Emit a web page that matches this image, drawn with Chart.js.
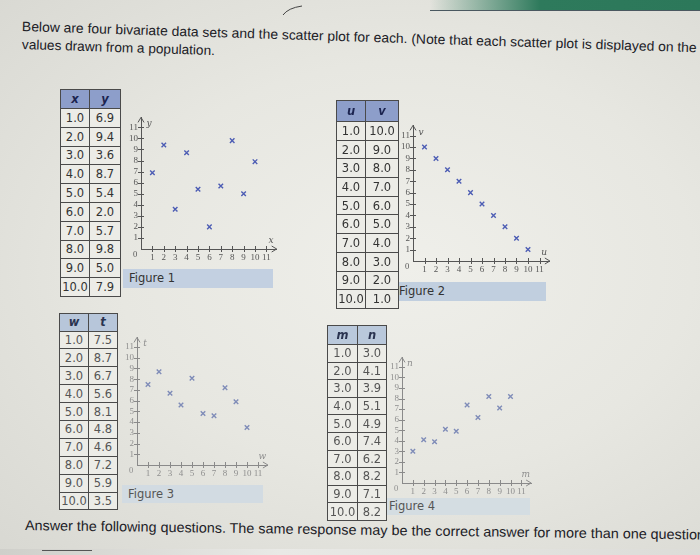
<!DOCTYPE html>
<html><head><meta charset="utf-8">
<script src="https://cdn.jsdelivr.net/npm/chart.js@4"></script>
<style>
html,body{margin:0;padding:0;}
body{width:700px;height:555px;overflow:hidden;position:relative;
 background:radial-gradient(ellipse at 58% 48%, #efefea 0%, #e7e7e1 50%, #d8d8d2 100%);
 font-family:"Liberation Sans",Arial,sans-serif;}
.txt{position:absolute;white-space:nowrap;color:#202026;font-size:13.5px;line-height:16px;transform-origin:0 50%;}
table{position:absolute;border-collapse:collapse;font-family:"DejaVu Sans",sans-serif;font-size:11.5px;color:#333;table-layout:fixed;}
td,th{border:1px solid #4a4a4a;padding:0;text-align:center;background:#ecece7;overflow:hidden;}
th{font-style:italic;font-weight:bold;}
.cap{position:absolute;font-family:"DejaVu Sans",sans-serif;font-size:11.5px;color:#333;padding-left:6px;box-sizing:border-box;}
canvas{position:absolute;}
#green{position:absolute;left:430px;top:0;width:270px;height:10px;background:linear-gradient(to right,rgba(46,122,92,0) 0,#2e7a5c 110px,#2c785a 100%);border-bottom:1.5px solid #4a5860;}
#bottomband{position:absolute;left:0;top:549px;width:700px;height:6px;background:linear-gradient(to right,#cfcfca,#e9e9e6 40%,#dcdcd8);}
#bline{position:absolute;left:42px;top:550px;width:50px;height:1px;background:#555;}
</style></head>
<body>
<div id="green"></div>
<svg style="position:absolute;left:280px;top:0" width="30" height="20"><path d="M3 15 Q8 8 22 6" stroke="#444" stroke-width="1" fill="none"/></svg>
<div class="txt" id="t1" style="left:22px;top:19px;">Below are four bivariate data sets and the scatter plot for each. (Note that each scatter plot is displayed on the</div>
<div class="txt" id="t2" style="left:22px;top:37px;">values drawn from a population.</div>
<div class="txt" id="t3" style="left:25px;top:517px;font-size:14px;">Answer the following questions. The same response may be the correct answer for more than one question.</div>
<div id="bottomband"></div><div id="bline"></div>

<div class="cap" id="c1" style="left:123px;top:269px;width:150px;height:19px;line-height:19px;background:#c3d0e1;">Figure 1</div>
<div class="cap" id="c2" style="left:393px;top:282px;width:153px;height:19px;line-height:19px;background:#c1cfdf;">Figure 2</div>
<div class="cap" id="c3" style="left:122px;top:485px;width:141px;height:18px;line-height:18px;background:#d2dbe2;color:#555;">Figure 3</div>
<div class="cap" id="c4" style="left:383px;top:498px;width:147px;height:17px;line-height:17px;background:#d4dde2;color:#555;">Figure 4</div>

<canvas id="ch1"></canvas><canvas id="ch2"></canvas><canvas id="ch3"></canvas><canvas id="ch4"></canvas>

<script>
// ---- data ----
const x1 = [1.0, 2.0, 3.0, 4.0, 5.0, 6.0, 7.0, 8.0, 9.0, 10.0];
const y1 = [6.9, 9.4, 3.6, 8.7, 5.4, 2.0, 5.7, 9.8, 5.0, 7.9];
const u2 = [1.0, 2.0, 3.0, 4.0, 5.0, 6.0, 7.0, 8.0, 9.0, 10.0];
const v2 = [10.0, 9.0, 8.0, 7.0, 6.0, 5.0, 4.0, 3.0, 2.0, 1.0];
const w3 = [1.0, 2.0, 3.0, 4.0, 5.0, 6.0, 7.0, 8.0, 9.0, 10.0];
const t3 = [7.5, 8.7, 6.7, 5.6, 8.1, 4.8, 4.6, 7.2, 5.9, 3.5];
const m4 = [1.0, 2.0, 3.0, 4.0, 5.0, 6.0, 7.0, 8.0, 9.0, 10.0];
const n4 = [3.0, 4.1, 3.9, 5.1, 4.9, 7.4, 6.2, 8.2, 7.1, 8.2];
const tickValues = [1, 2, 3, 4, 5, 6, 7, 8, 9, 10, 11];
const axisNames = [["x","y"],["u","v"],["w","t"],["m","n"]];

// ---- text fitting ----
function fit(id, target, rot, prefix){
  const el = document.getElementById(id);
  let w;
  if (prefix){
    const s = document.createElement('span');
    s.style.cssText = 'position:absolute;visibility:hidden;white-space:nowrap;font-family:"Liberation Sans";font-size:'+getComputedStyle(el).fontSize;
    s.textContent = prefix; document.body.appendChild(s); w = s.getBoundingClientRect().width; s.remove();
  } else w = el.getBoundingClientRect().width;
  el.style.transform = 'rotate('+rot+'deg) scaleX('+(target/w)+')';
}
fit('t1', 675, 1.8);
fit('t2', 193, 1.8);
fit('t3', 672, 0.8, 'Answer the following questions. The same response may be the correct answer for more than one questio');

// ---- tables ----
function makeTable(names, xs, ys, g, st){
  const tb = document.createElement('table');
  tb.style.left = g.left+'px'; tb.style.top = g.top+'px';
  tb.style.width = (g.c1+g.c2)+'px';
  let h = '<colgroup><col style="width:'+g.c1+'px"><col style="width:'+g.c2+'px"></colgroup>';
  h += '<tr style="height:'+g.hh+'px"><th style="background:'+st.head+';color:'+st.hcol+'">'+names[0]+'</th><th style="background:'+st.head+';color:'+st.hcol+'">'+names[1]+'</th></tr>';
  for (let i=0;i<xs.length;i++){
    h += '<tr style="height:'+g.rh+'px"><td style="color:'+st.col+'">'+xs[i].toFixed(1)+'</td><td style="color:'+st.col+'">'+ys[i].toFixed(1)+'</td></tr>';
  }
  tb.innerHTML = h;
  document.body.appendChild(tb);
}
makeTable(axisNames[0], x1, y1, {left:60, top:89, c1:29, c2:31, hh:19, rh:18.8}, {head:'#8d9eca', hcol:'#1c2450', col:'#333'});
makeTable(axisNames[1], u2, v2, {left:336, top:100, c1:29, c2:33, hh:21, rh:18.7}, {head:'#8d9eca', hcol:'#1c2450', col:'#333'});
makeTable(axisNames[2], w3, t3, {left:59, top:313, c1:29, c2:29, hh:17.5, rh:17.9}, {head:'#b7c6da', hcol:'#2a3350', col:'#555'});
makeTable(axisNames[3], m4, n4, {left:327, top:325, c1:30, c2:29, hh:19, rh:17.6}, {head:'#b9c8db', hcol:'#2a3350', col:'#555'});

// ---- charts ----
const deco = {
  id:'deco',
  afterDraw(chart, args, o){
    const {ctx} = chart; const x = chart.scales.x, y = chart.scales.y;
    const ox = x.getPixelForValue(0), oy = y.getPixelForValue(0);
    const xe = x.getPixelForValue(x.max), ye = y.getPixelForValue(y.max);
    ctx.save();
    ctx.strokeStyle = o.color; ctx.lineWidth = 1;
    ctx.beginPath();
    for (const v of tickValues){
      const px = Math.round(x.getPixelForValue(v))+0.5, py = Math.round(y.getPixelForValue(v))+0.5;
      ctx.moveTo(px, oy-3); ctx.lineTo(px, oy+3);
      ctx.moveTo(ox-3, py); ctx.lineTo(ox+3, py);
    }
    // arrows
    ctx.moveTo(xe-5, oy-3); ctx.lineTo(xe, oy); ctx.lineTo(xe-5, oy+3);
    ctx.moveTo(ox-3, ye+5); ctx.lineTo(ox, ye); ctx.lineTo(ox+3, ye+5);
    ctx.stroke();
    ctx.fillStyle = o.tcolor;
    ctx.textAlign='center'; ctx.textBaseline='middle';
    ctx.font = 'italic 9px "DejaVu Serif"';
    ctx.fillText(o.xl, x.getPixelForValue(11.4), oy-8);
    ctx.fillText(o.yl, ox+8, y.getPixelForValue(11.3));
    ctx.font = '8.5px "Liberation Serif"';
    ctx.fillText('0', ox-6, oy+6);
    ctx.restore();
  }
};

function makeChart(id, xs, ys, names, g, st){
  const c = document.getElementById(id);
  const ax = 14, pl = 4, pb = 4, xmax = 11.9, ymax = 11.9;
  const cw = xmax*g.ux, ch = ymax*g.uy;
  const W = Math.ceil(pl+ax+cw+6), H = Math.ceil(4+ch+ax+pb);
  const pr = W-pl-ax-cw, pt = H-pb-ax-ch;
  c.width = W; c.height = H; c.style.width = W+'px'; c.style.height = H+'px';
  c.style.left = (g.ox-ax-pl)+'px'; c.style.top = (g.oy-ch-pt)+'px';
  const tickFont = {family:'Liberation Serif', size:9};
  const setTicks = s => { s.ticks = tickValues.map(v => ({value:v})); };
  new Chart(c, {
    type:'scatter',
    data:{datasets:[{data: xs.map((v,i)=>({x:v, y:ys[i]})), pointStyle:'crossRot', radius:3.2, hoverRadius:3.2,
      borderColor:st.pt, backgroundColor:st.pt, borderWidth:1.4}]},
    options:{
      responsive:false, animation:false, devicePixelRatio:window.devicePixelRatio||1,
      layout:{padding:{left:pl, right:pr, top:pt, bottom:pb}},
      plugins:{legend:{display:false}, tooltip:{enabled:false}, deco:{color:st.axis, tcolor:st.lab, xl:names[0], yl:names[1]}},
      scales:{
        x:{type:'linear', min:0, max:xmax, afterFit:s=>{s.height=ax;}, afterBuildTicks:setTicks,
           grid:{display:false, drawTicks:false}, border:{display:true, color:st.axis, width:1},
           ticks:{autoSkip:false, maxRotation:0, padding:3, font:tickFont, color:st.lab}},
        y:{type:'linear', min:0, max:ymax, afterFit:s=>{s.width=ax;}, afterBuildTicks:setTicks,
           grid:{display:false, drawTicks:false}, border:{display:true, color:st.axis, width:1},
           ticks:{autoSkip:false, padding:3, font:tickFont, color:st.lab}}
      }
    },
    plugins:[deco]
  });
}
const darkStyle = {axis:'#555', lab:'#555', pt:'#4d5db4'};
const lightStyle = {axis:'#8a8a8a', lab:'#8e8e8e', pt:'#7f8cb8'};
makeChart('ch1', x1, y1, axisNames[0], {ox:140.5, oy:248.5, ux:11.4, uy:11.4}, darkStyle);
makeChart('ch2', u2, v2, axisNames[1], {ox:412.7, oy:260.7, ux:11.5, uy:11.7}, darkStyle);
makeChart('ch3', w3, t3, axisNames[2], {ox:137.3, oy:465.3, ux:11.0, uy:11.07}, lightStyle);
makeChart('ch4', m4, n4, axisNames[3], {ox:401.7, oy:483.3, ux:10.85, uy:10.9}, lightStyle);
</script>
</body></html>
